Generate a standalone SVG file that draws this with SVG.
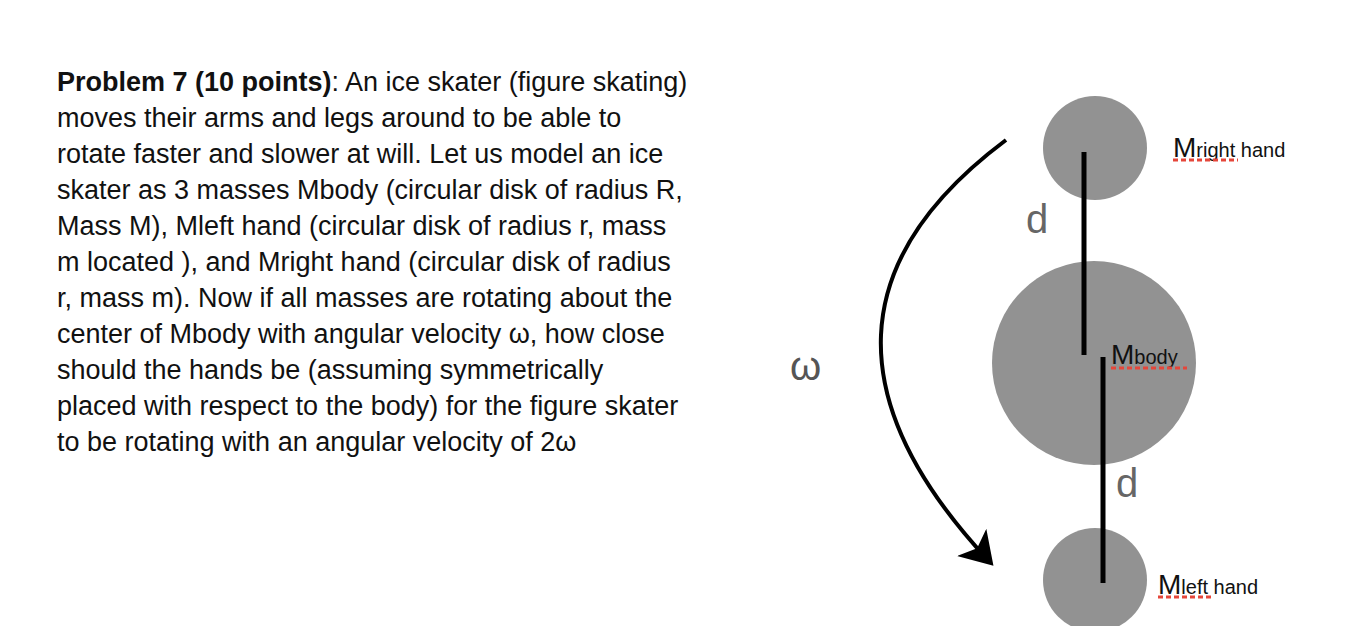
<svg xmlns="http://www.w3.org/2000/svg" width="1354" height="626" viewBox="0 0 1354 626">
<style>
.t{font-family:"Liberation Sans",Arial,sans-serif;font-size:27px;fill:#111}
.m{font-family:"Liberation Sans",Arial,sans-serif;fill:#111}
.g{fill:#929292}
.u{stroke:#e5463a;stroke-width:3;stroke-dasharray:5,3}
</style>
<defs><marker id="ah" markerWidth="10" markerHeight="10" refX="6" refY="5" orient="auto" markerUnits="strokeWidth"><path d="M0,0 L8,5 L0,10 L2,5 z" fill="#000"/></marker></defs>
<rect width="1354" height="626" fill="#fff"/>
<g id="text" class="t">
<text x="57" y="91"><tspan font-weight="bold">Problem 7 (10 points)</tspan>: An ice skater (figure skating)</text>
<text x="57" y="127">moves their arms and legs around to be able to</text>
<text x="57" y="163">rotate faster and slower at will. Let us model an ice</text>
<text x="57" y="199">skater as 3 masses Mbody (circular disk of radius R,</text>
<text x="57" y="235">Mass M), Mleft hand (circular disk of radius r, mass</text>
<text x="57" y="271">m located ), and Mright hand (circular disk of radius</text>
<text x="57" y="307">r, mass m). Now if all masses are rotating about the</text>
<text x="57" y="343">center of Mbody with angular velocity ω, how close</text>
<text x="57" y="379">should the hands be (assuming symmetrically</text>
<text x="57" y="415">placed with respect to the body) for the figure skater</text>
<text x="57" y="451">to be rotating with an angular velocity of 2ω</text>
</g>
<g id="right-hand"><circle class="g" cx="1095" cy="148" r="52"/>
<text class="m" x="1173" y="157"><tspan font-size="28">M</tspan><tspan font-size="20">right hand</tspan></text>
<line class="u" x1="1173" y1="160" x2="1238" y2="160"/></g>
<g id="body"><circle class="g" cx="1094" cy="363" r="102"/>
<text class="m" x="1111" y="364"><tspan font-size="28">M</tspan><tspan font-size="20">body</tspan></text>
<line class="u" x1="1111" y1="368" x2="1187" y2="368"/></g>
<g id="left-hand"><circle class="g" cx="1095" cy="580" r="52"/>
<text class="m" x="1158" y="594"><tspan font-size="28">M</tspan><tspan font-size="20">left hand</tspan></text>
<line class="u" x1="1158" y1="597" x2="1211" y2="597"/></g>
<g id="connectors">
<line x1="1084" y1="152" x2="1084" y2="355" stroke="#000" stroke-width="5"/>
<line x1="1103" y1="357" x2="1103" y2="583" stroke="#000" stroke-width="5"/>
<path d="M1006,140 Q765,320 988,560" fill="none" stroke="#000" stroke-width="4" marker-end="url(#ah)"/>
<text x="1026" y="233" font-family="Liberation Sans,Arial,sans-serif" font-size="40" fill="#666">d</text>
<text x="1116" y="497" font-family="Liberation Sans,Arial,sans-serif" font-size="40" fill="#666">d</text>
<text x="790" y="380" font-family="Liberation Sans,Arial,sans-serif" font-size="40" fill="#555">ω</text>
</g>
</svg>
